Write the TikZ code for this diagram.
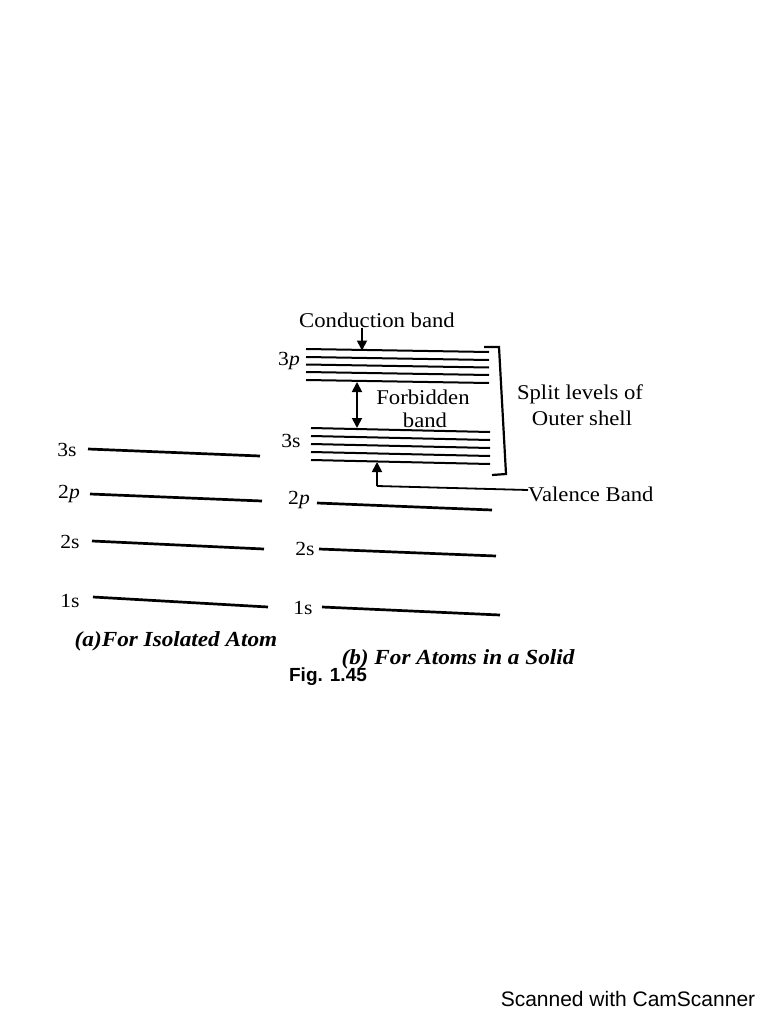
\documentclass[tikz,border=0pt]{standalone}
\usepackage{fontspec}
\setmainfont[FakeStretch=1.08]{Liberation Serif}
\setsansfont{Liberation Sans}
\usetikzlibrary{arrows.meta}
\begin{document}
\begin{tikzpicture}[x=1pt,y=-1pt,
  lvl/.style={line width=2.7pt},
  sub/.style={line width=2pt},
  txt/.style={font=\fontsize{21}{23}\selectfont, inner sep=0pt},
  lab/.style={font=\fontsize{20}{22}\selectfont, inner sep=0pt},
  captxt/.style={font=\fontsize{21.5}{23}\selectfont\bfseries\itshape, inner sep=0pt},
  tipone/.style={-{Triangle[width=10pt,length=10pt]}, line width=1.8pt},
  tiptwo/.style={{Triangle[width=10pt,length=10pt]}-{Triangle[width=10pt,length=10pt]}, line width=1.8pt}]
\useasboundingbox (0,0) rectangle (768,1024);
\fill[white] (0,0) rectangle (768,1024);

% ---------- (a) isolated atom ----------
\node[lab] (a3s) at (67,450) {3s};
\node[lab] (a2p) at (69,494) {2\textit{p}};
\node[lab] (a2s) at (70,542) {2s};
\node[lab] (a1s) at (70,601) {1s};
\coordinate (a3sL) at (88,449);
\coordinate (a2pL) at (90,494);
\coordinate (a2sL) at (92,541);
\coordinate (a1sL) at (93,597);
\coordinate (a3sR) at (260,456);
\coordinate (a2pR) at (262,501);
\coordinate (a2sR) at (264,549);
\coordinate (a1sR) at (268,607);
\draw[lvl] (a3sL) -- (a3sR);
\draw[lvl] (a2pL) -- (a2pR);
\draw[lvl] (a2sL) -- (a2sR);
\draw[lvl] (a1sL) -- (a1sR);
\node[captxt] (capa) at (176,641) {(a)For Isolated Atom};

% ---------- (b) atoms in a solid ----------
\node[lab] (b2p) at (299,500) {2\textit{p}};
\node[lab] (b2s) at (305,549) {2s};
\node[lab] (b1s) at (303,608) {1s};
\coordinate (b2pL) at (317,503);
\coordinate (b2sL) at (319,549);
\coordinate (b1sL) at (322,607);
\coordinate (b2pR) at (492,510);
\coordinate (b2sR) at (496,556);
\coordinate (b1sR) at (500,615);
\draw[lvl] (b2pL) -- (b2pR);
\draw[lvl] (b2sL) -- (b2sR);
\draw[lvl] (b1sL) -- (b1sR);

% 3p band
\node[lab] (b3p) at (289,361) {3\textit{p}};
\foreach \i/\y in {1/349,2/357,3/364.5,4/372,5/380}{
  \coordinate (p\i L) at (306,\y);
  \coordinate (p\i R) at (489,\y+3);
  \draw[sub] (p\i L) -- (p\i R);
}
% 3s band
\node[lab] (b3s) at (291,441) {3s};
\foreach \i/\y in {1/428,2/436,3/444,4/452,5/460}{
  \coordinate (s\i L) at (311,\y);
  \coordinate (s\i R) at (490,\y+4);
  \draw[sub] (s\i L) -- (s\i R);
}

% conduction band
\node[txt] (cond) at (377,320) {Conduction band};
\coordinate (condTip) at (362,350.5);
\draw[tipone] (cond.south -| condTip) -- (condTip);

% forbidden band
\node[txt] (forb1) at (423,397) {Forbidden};
\node[txt] (forb2) at (425,420) {band};
\coordinate (fTop) at (357,382);
\coordinate (fBot) at (357,428);
\draw[tiptwo] (fTop) -- (fBot);

% bracket
\coordinate (brTL) at (484,347);
\coordinate (brTR) at (499,347);
\coordinate (brBR) at (506,474);
\coordinate (brBL) at (492,475);
\draw[line width=2.2pt] (brTL) -- (brTR) -- (brBR) -- (brBL);
\node[txt] (split1) at (580,394) {Split levels of};
\node[txt] (split2) at (582,418) {Outer shell};

% valence band
\node[txt, anchor=west] (val) at (528,494) {Valence Band};
\coordinate (vTip) at (377,462);
\coordinate (vCorner) at (377,486);
\coordinate (vEnd) at (528,490);
\draw[tipone] (vCorner) -- (vTip);
\draw[line width=1.8pt] (vCorner) -- (vEnd);

\node[captxt] (capb) at (458,659) {(b) For Atoms in \textit{a} Solid};
\node[font=\sffamily\bfseries\fontsize{19}{21}\selectfont, inner sep=0pt] (fig) at (328,677) {Fig. 1.45};

\node[font=\sffamily\fontsize{21}{23}\selectfont, inner sep=0pt] (scan) at (628,999) {Scanned with CamScanner};
\end{tikzpicture}
\end{document}
